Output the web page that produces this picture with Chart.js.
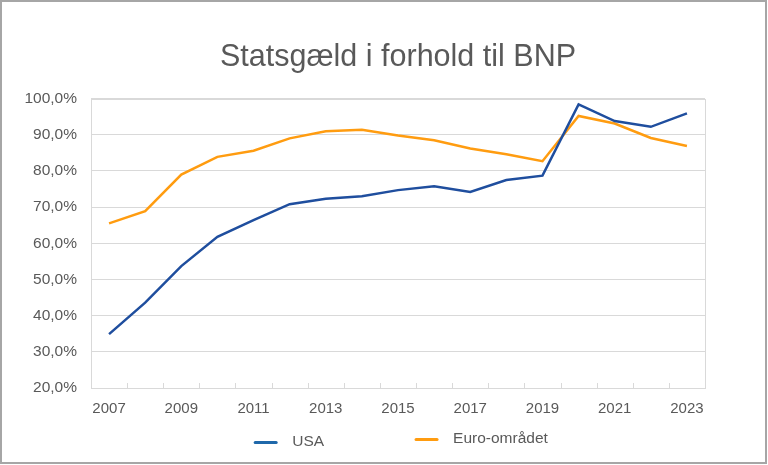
<!DOCTYPE html>
<html>
<head>
<meta charset="utf-8">
<script src="https://cdn.jsdelivr.net/npm/chart.js@4.4.0/dist/chart.umd.min.js"></script>
<style>
  html, body { margin: 0; padding: 0; background: #fff; }
  #wrap { width: 768px; height: 465px; position: relative; }
</style>
</head>
<body>
<div id="wrap"><canvas id="c" width="768" height="465"></canvas></div>
<script>
const years = ['2007','2008','2009','2010','2011','2012','2013','2014','2015','2016','2017','2018','2019','2020','2021','2022','2023'];
const usa  = [34.9, 43.6, 53.7, 61.8, 66.4, 70.8, 72.3, 73.0, 74.7, 75.8, 74.2, 77.5, 78.7, 98.4, 93.8, 92.2, 95.9];
const euro = [65.5, 68.9, 79.0, 83.9, 85.6, 89.0, 91.0, 91.4, 89.8, 88.5, 86.2, 84.6, 82.7, 95.2, 93.1, 89.1, 86.9];
const seriesNames = ['USA', 'Euro-området'];
const titleText = 'Statsgæld i forhold til BNP';

const FONT = "'Liberation Sans', Arial, sans-serif";
const GRID = '#d9d9d9';
const TXT = '#595959';

const framePlugin = {
  id: 'frame',
  beforeDraw(chart) {
    const ctx = chart.ctx;
    ctx.save();
    ctx.fillStyle = '#fff';
    ctx.fillRect(0, 0, chart.width, chart.height);
    ctx.restore();
  },
  afterDraw(chart) {
    const ctx = chart.ctx;
    const a = chart.chartArea;
    const xs = chart.scales.x;
    ctx.save();
    // plot border
    ctx.strokeStyle = GRID;
    ctx.lineWidth = 1;
    ctx.strokeRect(Math.round(a.left) + 0.5, Math.round(a.top) + 0.5, Math.round(a.right - a.left), Math.round(a.bottom - a.top));
    // inner tick marks at category boundaries
    const n = xs.getLabels().length;
    const step = (xs.right - xs.left) / n;
    ctx.beginPath();
    for (let i = 1; i < n; i++) {
      const x = Math.round(xs.left + i * step) + 0.5;
      ctx.moveTo(x, a.bottom);
      ctx.lineTo(x, a.bottom - 5);
    }
    ctx.stroke();
    // outer border
    ctx.strokeStyle = '#a6a6a6';
    ctx.lineWidth = 2;
    ctx.strokeRect(1, 1, chart.width - 3, chart.height - 3);
    // legend
    ctx.font = '15.5px ' + FONT;
    ctx.textBaseline = 'middle';
    const lineLen = 23, textGap = 15, itemGap = 91;
    const ds = chart.data.datasets;
    const widths = ds.map(d => ctx.measureText(d.label).width);
    let total = 0;
    ds.forEach((d, i) => { total += lineLen + textGap + widths[i] + (i < ds.length - 1 ? itemGap : 0); });
    let x = (a.left + a.right) / 2 + 3 - total / 2;
    const yBase = 440;
    ds.forEach((d, i) => {
      const y = yBase + (i === 0 ? 1.5 : -1.5);
      ctx.strokeStyle = d.legendColor || d.borderColor;
      ctx.lineWidth = 3;
      ctx.lineCap = 'round';
      ctx.beginPath();
      ctx.moveTo(x + 1, y + 1);
      ctx.lineTo(x + lineLen - 1, y + 1);
      ctx.stroke();
      ctx.fillStyle = TXT;
      ctx.fillText(d.label, x + lineLen + textGap, y);
      x += lineLen + textGap + widths[i] + itemGap;
    });
    ctx.restore();
  }
};

new Chart(document.getElementById('c'), {
  type: 'line',
  data: {
    labels: years,
    datasets: [
      { label: seriesNames[0], data: usa, borderColor: '#1f4e9e', legendColor: '#1f68aa', borderWidth: 2.5, pointRadius: 0, tension: 0, fill: false },
      { label: seriesNames[1], data: euro, borderColor: '#ff9c10', legendColor: '#ff9c10', borderWidth: 2.5, pointRadius: 0, tension: 0, fill: false }
    ]
  },
  options: {
    responsive: false,
    animation: false,
    devicePixelRatio: 1,
    layout: { padding: { left: 0, right: 63, top: 0, bottom: 0 } },
    plugins: {
      legend: { display: false },
      tooltip: { enabled: false },
      title: {
        display: true,
        text: titleText,
        fullSize: false,
        color: TXT,
        font: { family: FONT, size: 30.5, weight: 'normal' },
        padding: { top: 39, bottom: 23 }
      }
    },
    scales: {
      x: {
        type: 'category',
        offset: true,
        grid: { display: false, drawOnChartArea: false, drawTicks: false },
        border: { display: false },
        ticks: {
          autoSkip: false,
          maxRotation: 0,
          padding: 12,
          color: TXT,
          font: { family: FONT, size: 15 },
          callback: function(v, i) { return i % 2 === 0 ? this.getLabelForValue(v) : ''; }
        },
        afterFit(s) { s.height = 77; }
      },
      y: {
        min: 20,
        max: 100,
        grid: { color: GRID, lineWidth: 1, drawTicks: false },
        border: { display: false },
        ticks: {
          stepSize: 10,
          padding: 14,
          color: TXT,
          font: { family: FONT, size: 15.5 },
          callback: v => v.toFixed(1).replace('.', ',') + '%'
        },
        afterFit(s) { s.width = 91; }
      }
    }
  },
  plugins: [framePlugin]
});
</script>
</body>
</html>
